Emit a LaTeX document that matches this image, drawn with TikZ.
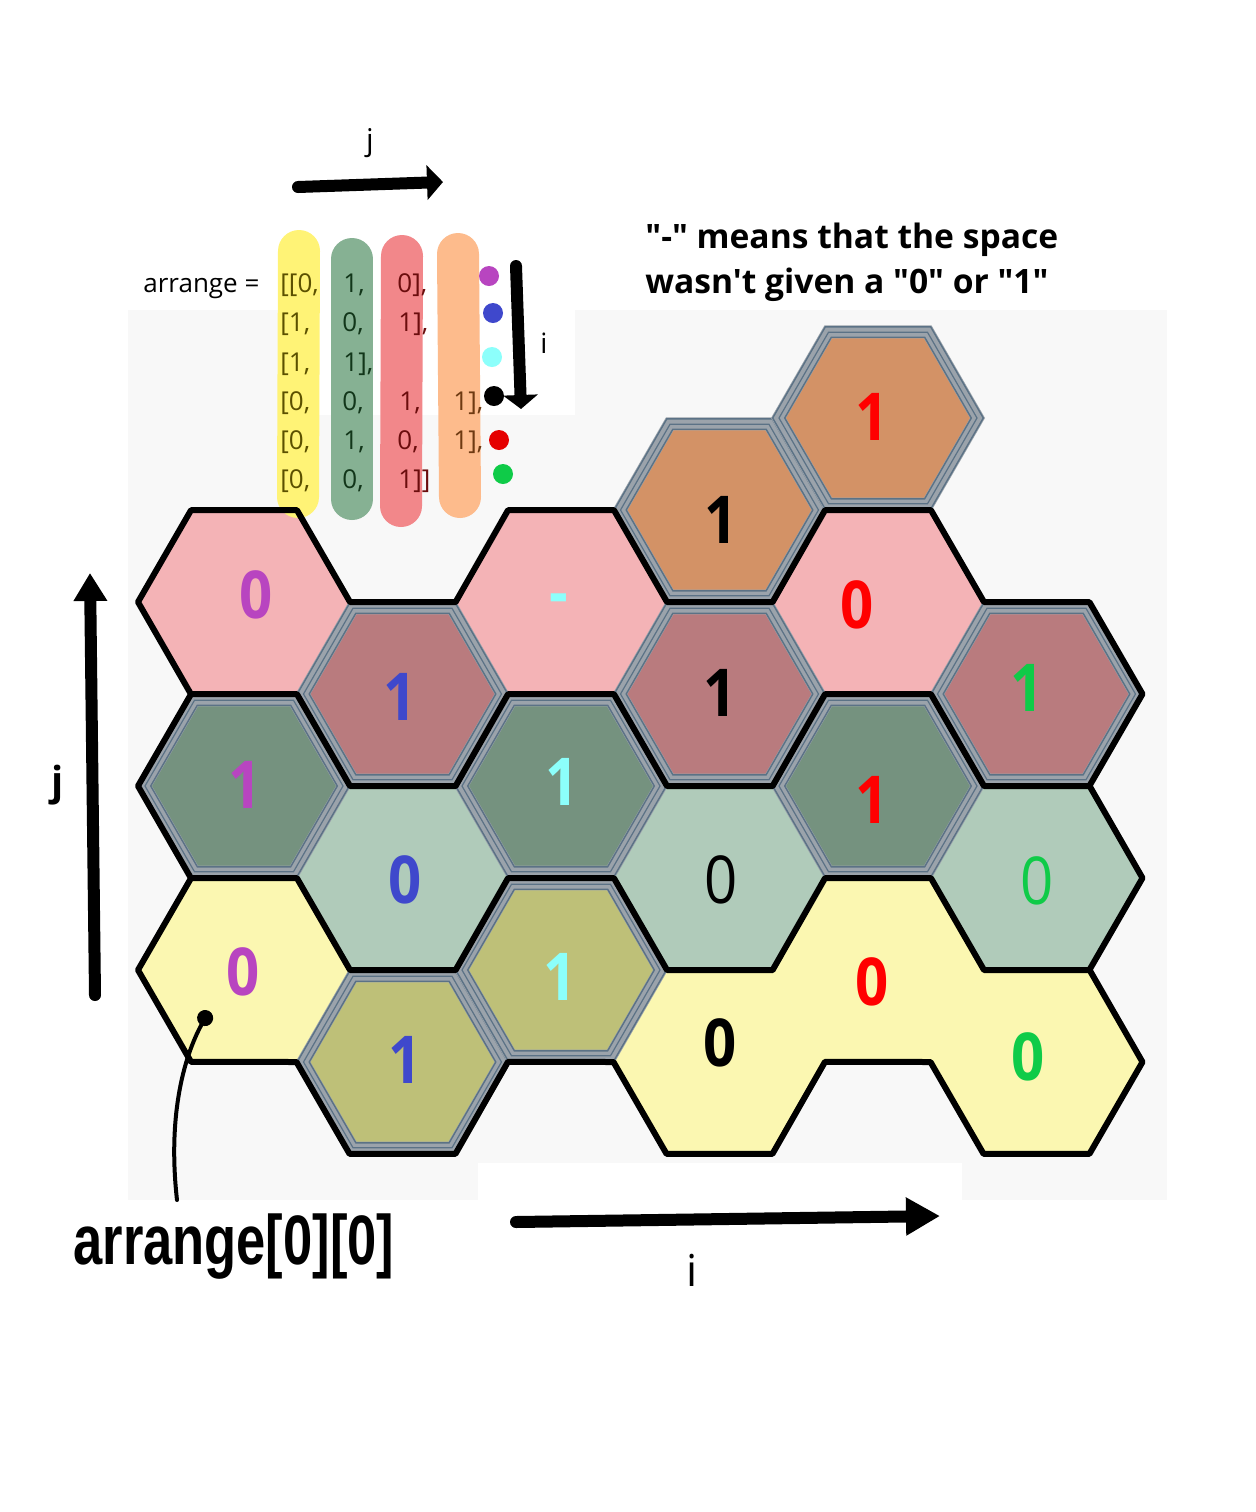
\documentclass[tikz,border=0pt]{standalone}
\usepackage{fontspec}
\setmainfont{Open Sans}
\newfontfamily\digfont[FakeStretch=0.88]{Open Sans}
\newfontfamily\notefont[Ligatures=TeXOff]{Open Sans}
\newfontfamily\narrowfont[FakeStretch=0.75]{Liberation Sans}
\usetikzlibrary{arrows.meta}
\definecolor{bgg}{HTML}{F8F8F8}
\definecolor{yel}{HTML}{FBF7B1}
\definecolor{oliv}{HTML}{BEC078}
\definecolor{lgrn}{HTML}{B0CBBA}
\definecolor{dgrn}{HTML}{75927F}
\definecolor{pnk}{HTML}{F4B3B6}
\definecolor{mauv}{HTML}{B97B7E}
\definecolor{orng}{HTML}{D39266}
\definecolor{fgray}{HTML}{9BA3AB}
\definecolor{fline}{HTML}{5B7286}
\definecolor{purp}{HTML}{B845C0}
\definecolor{blu}{HTML}{3F48CC}
\definecolor{cyn}{HTML}{8CFFFB}
\definecolor{rd}{HTML}{FF0000}
\definecolor{grn}{HTML}{0FCB48}
\definecolor{hly}{HTML}{FFF376}
\definecolor{hlg}{HTML}{86B193}
\definecolor{hlr}{HTML}{F2878A}
\definecolor{hlo}{HTML}{FDBB8C}
\definecolor{tA}{HTML}{5B5000}
\definecolor{tB}{HTML}{12361A}
\definecolor{tC}{HTML}{6B0D0D}
\definecolor{tD}{HTML}{6E3A12}

\newcommand\hexat[3]{%
  \coordinate (#1) at (#2,#3);
  \coordinate (#1-r) at ({#2+106},{#3});
  \coordinate (#1-ur) at ({#2+53},{#3-91.8});
  \coordinate (#1-ul) at ({#2-53},{#3-91.8});
  \coordinate (#1-l) at ({#2-106},{#3});
  \coordinate (#1-ll) at ({#2-53},{#3+91.8});
  \coordinate (#1-lr) at ({#2+53},{#3+91.8});
}
\newcommand\hexpath[1]{({#1},0) -- ({0.5*#1},{-0.866*#1}) -- ({-0.5*#1},{-0.866*#1}) -- ({-#1},0) -- ({-0.5*#1},{0.866*#1}) -- ({0.5*#1},{0.866*#1}) -- cycle}
\newcommand\plainhex[2]{\fill[#2,shift={(#1)}] \hexpath{106};}
\newcommand\framedhex[2]{%
  \fill[#2,shift={(#1)}] \hexpath{106};
  \draw[fgray,line width=6.5pt,shift={(#1)}] \hexpath{99.5};
  \draw[fline,line width=0.7pt,shift={(#1)}] \hexpath{105.3};
  \draw[fline,line width=0.6pt,shift={(#1)}] \hexpath{99};
  \draw[fline,line width=0.7pt,shift={(#1)}] \hexpath{93.3};
}

\begin{document}
\begin{tikzpicture}[x=0.5pt,y=-0.5pt,
  blackline/.style={line width=3pt,line join=round,line cap=round},
  dig/.style={font=\digfont\bfseries\fontsize{33}{33}\selectfont,inner sep=0pt},
  digr/.style={font=\digfont\fontsize{33}{33}\selectfont,inner sep=0pt},
  leg/.style={font=\fontsize{13}{13}\selectfont,anchor=base west,inner sep=0pt},
  note/.style={font=\notefont\bfseries\fontsize{16.8}{16.8}\selectfont,anchor=base west,inner sep=0pt},
  hl/.style={line width=21pt,line cap=round},
  dot/.style={circle,inner sep=0pt,minimum size=10pt},
  bigarrow/.style={line width=6pt,line cap=round}]
\useasboundingbox (0,0) rectangle (1255,1512);

% backgrounds
\fill[bgg] (128,310) rectangle (1167,1200);
\fill[white] (280,222) rectangle (575,415);
\fill[white] (478,1163) rectangle (962,1257);

% hex centres
\hexat{h00}{244}{970}   \hexat{h01}{244}{786}   \hexat{h02}{244}{602}
\hexat{h10}{402.5}{1062}\hexat{h11}{402.5}{878} \hexat{h12}{402.5}{694}
\hexat{h20}{561}{970}   \hexat{h21}{561}{786}   \hexat{h22}{561}{602}
\hexat{h30}{719.5}{1062}\hexat{h31}{719.5}{878} \hexat{h32}{719.5}{694} \hexat{h33}{719.5}{510}
\hexat{h40}{878}{970}   \hexat{h41}{878}{786}   \hexat{h42}{878}{602}   \hexat{h43}{878}{418}
\hexat{h50}{1036.5}{1062}\hexat{h51}{1036.5}{878}\hexat{h52}{1036.5}{694}

% plain cells
\plainhex{h00}{yel} \plainhex{h30}{yel} \plainhex{h40}{yel} \plainhex{h50}{yel}
\plainhex{h11}{lgrn} \plainhex{h31}{lgrn} \plainhex{h51}{lgrn}
\plainhex{h02}{pnk} \plainhex{h22}{pnk} \plainhex{h42}{pnk}
% framed cells
\framedhex{h10}{oliv} \framedhex{h20}{oliv}
\framedhex{h01}{dgrn} \framedhex{h21}{dgrn} \framedhex{h41}{dgrn}
\framedhex{h12}{mauv} \framedhex{h32}{mauv} \framedhex{h52}{mauv}
\framedhex{h33}{orng} \framedhex{h43}{orng}

% highlighter strokes
\draw[hl,draw=hly] (299,251) -- (298,497);
\draw[hl,draw=hlg] (352,259) -- (352,499);
\draw[hl,draw=hlr] (402,256) -- (401,506);
\draw[hl,draw=hlo] (458,254) -- (460,497);

% black outlines
\draw[blackline] (h02-ul) -- (h02-ur) -- (h02-r) -- (h12-ur) -- (h22-ul) -- (h22-ur) -- (h22-r) -- (h32-ur) -- (h42-ul) -- (h42-ur) -- (h42-r) -- (h52-ur) -- (h52-r) -- (h52-lr) -- (h51-r) -- (h51-lr) -- (h50-r) -- (h50-lr) -- (h50-ll) -- (h50-l) -- (h40-ll) -- (h30-lr) -- (h30-ll) -- (h30-l) -- (h20-ll) -- (h10-lr) -- (h10-ll) -- (h10-l) -- (h00-ll) -- (h00-l) -- (h00-ul) -- (h01-l) -- (h01-ul) -- (h02-l) -- cycle;
\draw[blackline] (h01-ul) -- (h01-ur) -- (h01-r) -- (h11-ur) -- (h21-ul) -- (h21-ur) -- (h21-r) -- (h31-ur) -- (h41-ul) -- (h41-ur) -- (h41-r) -- (h51-ur);
\draw[blackline] (h00-ul) -- (h00-ur) -- (h00-r) -- (h10-ur) -- (h20-ul) -- (h20-ur) -- (h20-r) -- (h30-ur) -- (h40-ul) -- (h40-ur) -- (h40-r) -- (h50-ur);

% cell values
\node[dig,text=purp] (t02) at (256,595) {0};
\node[dig,text=purp] (t01) at (245,785) {1};
\node[dig,text=purp] (t00) at (243,972) {0};
\node[dig,text=blu] (t12) at (400,697) {1};
\node[dig,text=blu] (t11) at (405,880) {0};
\node[dig,text=blu] (t10) at (405,1060) {1};
\node[dig,text=cyn,anchor=base] (t22) at (559,615) {-};
\node[dig,text=cyn] (t21) at (562,782) {1};
\node[dig,text=cyn] (t20) at (560,977) {1};
\node[dig] (t33) at (721,520) {1};
\node[dig] (t32) at (720,693) {1};
\node[digr] (t31) at (721,880) {0};
\node[dig] (t30) at (720,1043) {0};
\node[dig,text=rd] (t43) at (872,417) {1};
\node[dig,text=rd] (t42) at (857,605) {0};
\node[dig,text=rd] (t41) at (872,800) {1};
\node[dig,text=rd] (t40) at (872,982) {0};
\node[dig,text=grn] (t52) at (1027,688) {1};
\node[digr,text=grn] (t51) at (1037,881) {0};
\node[dig,text=grn] (t50) at (1028,1057) {0};

% legend array
\node[leg] (arr) at (143,292) {arrange =};
\node[leg,text=tA] (a1) at (280,292) {[[0,};
\node[leg,text=tB] (b1) at (343,292) {1,};
\node[leg,text=tC] (c1) at (397,292) {0],};
\node[leg,text=tA] (a2) at (280,331) {[1,};
\node[leg,text=tB] (b2) at (342,331) {0,};
\node[leg,text=tC] (c2) at (398,331) {1],};
\node[leg,text=tA] (a3) at (280,371) {[1,};
\node[leg,text=tB] (b3) at (343,371) {1],};
\node[leg,text=tA] (a4) at (280,410) {[0,};
\node[leg,text=tB] (b4) at (342,410) {0,};
\node[leg,text=tC] (c4) at (399,410) {1,};
\node[leg,text=tD] (d4) at (453,410) {1],};
\node[leg,text=tA] (a5) at (280,449) {[0,};
\node[leg,text=tB] (b5) at (343,449) {1,};
\node[leg,text=tC] (c5) at (397,449) {0,};
\node[leg,text=tD] (d5) at (453,449) {1],};
\node[leg,text=tA] (a6) at (280,488) {[0,};
\node[leg,text=tB] (b6) at (342,488) {0,};
\node[leg,text=tC] (c6) at (398,488) {1]]};

% legend colour dots
\node[dot,fill=purp] (d0) at (489,276) {};
\node[dot,fill=blu] (d1) at (493,313) {};
\node[dot,fill=cyn] (d2) at (492,357) {};
\node[dot,fill=black] (d3) at (494,396) {};
\node[dot,fill=red!90!black] (d4) at (499,440) {};
\node[dot,fill=grn] (d5) at (503,474) {};

% note
\node[note] (n1) at (645,248) {"-" means that the space};
\node[note] (n2) at (645,293) {wasn't given a "0" or "1"};

% axes arrows and labels
\coordinate (jA1) at (298,187); \coordinate (jA2) at (443,182);
\draw[bigarrow,-{Triangle[length=8pt,width=17pt]}] (jA1) -- (jA2);
\node[font=\fontsize{15}{15}\selectfont] (jt) at (370,143) {j};

\coordinate (iA1) at (516,266); \coordinate (iA2) at (521,409);
\draw[bigarrow,-{Triangle[length=7pt,width=17pt]}] (iA1) -- (iA2);
\node[font=\fontsize{14}{14}\selectfont] (il) at (544,343) {i};

\coordinate (jL1) at (95,995); \coordinate (jL2) at (90,573);
\draw[bigarrow,-{Triangle[length=14pt,width=16pt]}] (jL1) -- (jL2);
\node[font=\bfseries\fontsize{20}{20}\selectfont] (jl) at (58,785) {j};

\coordinate (iB1) at (516,1222); \coordinate (iB2) at (940,1216);
\draw[bigarrow,-{Triangle[length=17pt,width=18pt]}] (iB1) -- (iB2);
\node[font=\fontsize{22}{22}\selectfont] (ib) at (692,1270) {i};

% pointer to arrange[0][0]
\coordinate (p1) at (177,1200); \coordinate (p2) at (209,1011);
\draw[line width=2pt,line cap=round,-{Circle[length=8pt]}] (p1) .. controls (168,1120) and (182,1060) .. (p2);
\node[font=\narrowfont\bfseries\fontsize{35}{35}\selectfont,anchor=base west,inner sep=0pt] (a00) at (73,1264) {arrange[0][0]};
\end{tikzpicture}
\end{document}
